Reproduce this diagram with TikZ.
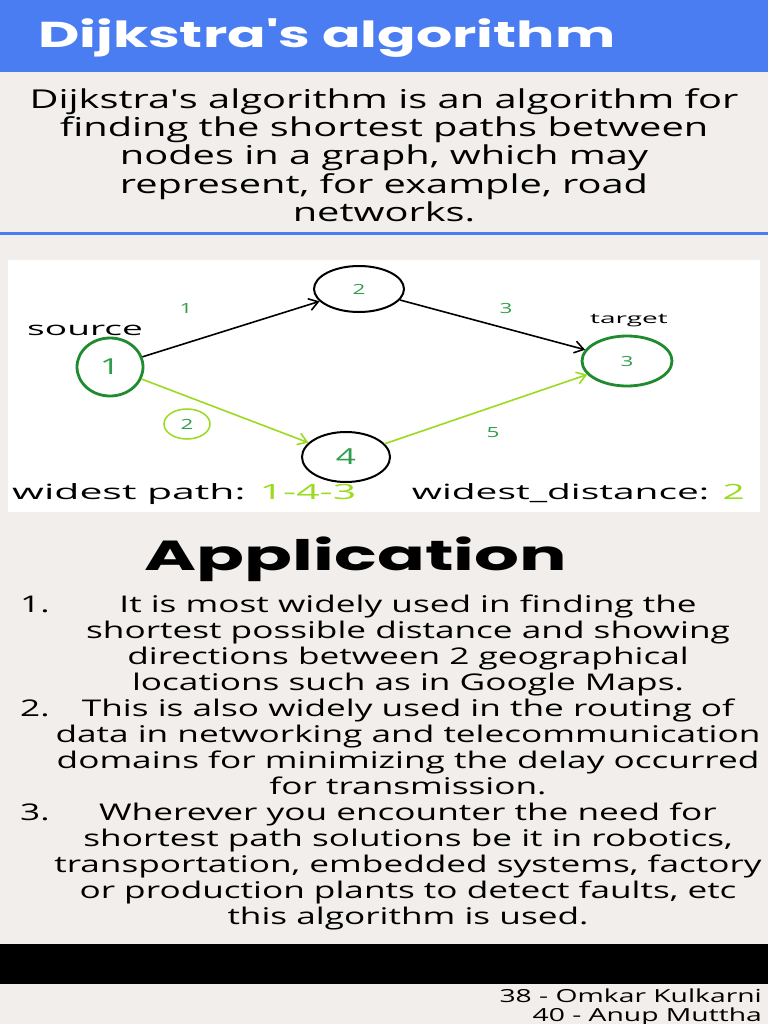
\documentclass[tikz,border=0pt]{standalone}
\usepackage{fontspec}
\usepackage{graphicx}
\setmainfont{Open Sans}
\newfontfamily\titlefont{Poppins}
\usetikzlibrary{arrows.meta,shapes.geometric}
\definecolor{bg}{HTML}{F1EEEB}
\definecolor{bar}{HTML}{4A7DF2}
\definecolor{gn}{HTML}{2E9E4A}
\definecolor{lg}{HTML}{9BDB1E}
\definecolor{dg}{HTML}{1F8A2E}
\newcommand{\sx}[2]{\scalebox{#1}[1]{#2}}
\begin{document}
\begin{tikzpicture}[x=1pt,y=-1pt,
  para/.style={font=\fontsize{26}{26}\selectfont,anchor=base},
  lst/.style={font=\fontsize{23}{23}\selectfont,anchor=base},
  gr/.style={font=\fontsize{21}{21}\selectfont,anchor=base},
  vert/.style={draw,ellipse,line width=2pt,inner sep=0pt},
  edge/.style={line width=1.6pt,-{Straight Barb[length=9pt,width=12pt]}},
  wl/.style={font=\fontsize{14}{14}\selectfont,text=gn}]
\useasboundingbox (0,0) rectangle (768,1024);
\fill[bg] (0,0) rectangle (768,1024);
\fill[bar] (0,0) rectangle (768,72);
\node[anchor=base west,inner sep=0pt,text=white,font=\titlefont\bfseries\fontsize{36}{36}\selectfont] (title) at (38,48) {\sx{1.58}{Dijkstra's algorithm}};
\node[para] (p1) at (384,109) {\sx{1.53}{Dijkstra\textquotesingle s algorithm is an algorithm for}};
\node[para] (p2) at (384,137) {\sx{1.53}{finding the shortest paths between}};
\node[para] (p3) at (384,165) {\sx{1.53}{nodes in a graph, which may}};
\node[para] (p4) at (384,194) {\sx{1.53}{represent, for example, road}};
\node[para] (p5) at (384,222) {\sx{1.53}{networks.}};
\fill[bar] (0,232) rectangle (768,235);
% image
\fill[white] (8,260) rectangle (760,512);
\node[vert,draw=dg,line width=2.8pt,minimum width=66pt,minimum height=58pt] (n1) at (110,367) {};
\node[vert,minimum width=90pt,minimum height=46pt] (n2) at (359,289) {};
\node[vert,draw=dg,line width=2.8pt,minimum width=90pt,minimum height=50pt] (n3) at (627,361) {};
\node[vert,minimum width=88pt,minimum height=50pt] (n4) at (346,457) {};
\node[text=gn,font=\fontsize{22}{22}\selectfont] (t1) at (n1) {\sx{1.6}{1}};
\node[wl] (t2) at (n2) {\sx{1.6}{2}};
\node[wl] (t3) at (n3) {\sx{1.6}{3}};
\node[text=gn,font=\fontsize{22}{22}\selectfont] (t4) at (n4) {\sx{1.6}{4}};
\draw[edge] (n1) -- (n2);
\draw[edge] (n2) -- (n3);
\draw[edge,lg] (n1) -- (n4);
\draw[edge,lg] (n4) -- (n3);
\node[font=\fontsize{19}{19}\selectfont] (src) at (85,330) {\sx{1.95}{source}};
\node[font=\fontsize{14}{14}\selectfont] (tgt) at (629,321) {\sx{2}{target}};
\node[wl] (w1) at (186,309) {\sx{1.6}{1}};
\node[wl] (w3) at (506,308) {\sx{1.6}{3}};
\node[wl] (w5) at (493,433) {\sx{1.6}{5}};
\node[wl,draw=lg,ellipse,line width=1.5pt,minimum width=46pt,minimum height=30pt,inner sep=0pt] (w2) at (187,424) {\sx{1.6}{2}};
\node[gr,anchor=base west,inner sep=0pt] (wp) at (12,499) {\sx{1.95}{widest path: \textcolor{lg}{1-4-3}}};
\node[gr,anchor=base east,inner sep=0pt] (wd) at (745,499) {\sx{1.85}{widest\_distance: \textcolor{lg}{2}}};
% application
\node[anchor=base,font=\titlefont\bfseries\fontsize{42}{42}\selectfont] (app) at (356,570) {\sx{1.68}{Application}};
\node[lst,anchor=base west,inner sep=0pt] (n1a) at (20,612) {\sx{1.53}{1.}};
\node[lst] (l1) at (408,612) {\sx{1.53}{It is most widely used in finding the}};
\node[lst] (l2) at (408,638) {\sx{1.53}{shortest possible distance and showing}};
\node[lst] (l3) at (408,664) {\sx{1.53}{directions between 2 geographical}};
\node[lst] (l4) at (408,690) {\sx{1.53}{locations such as in Google Maps.}};
\node[lst,anchor=base west,inner sep=0pt] (n2a) at (20,716) {\sx{1.53}{2.}};
\node[lst] (l5) at (408,716) {\sx{1.53}{This is also widely used in the routing of}};
\node[lst] (l6) at (408,742) {\sx{1.53}{data in networking and telecommunication}};
\node[lst] (l7) at (408,768) {\sx{1.53}{domains for minimizing the delay occurred}};
\node[lst] (l8) at (408,794) {\sx{1.53}{for transmission.}};
\node[lst,anchor=base west,inner sep=0pt] (n3a) at (20,820) {\sx{1.53}{3.}};
\node[lst] (l9) at (408,820) {\sx{1.53}{Wherever you encounter the need for}};
\node[lst] (l10) at (408,846) {\sx{1.53}{shortest path solutions be it in robotics,}};
\node[lst] (l11) at (408,872) {\sx{1.53}{transportation, embedded systems, factory}};
\node[lst] (l12) at (408,898) {\sx{1.53}{or production plants to detect faults, etc}};
\node[lst] (l13) at (408,924) {\sx{1.53}{this algorithm is used.}};
\fill[black] (0,944) rectangle (768,984);
\node[anchor=base east,inner sep=0pt,font=\fontsize{18}{18}\selectfont] (a1) at (762,1002) {\sx{1.57}{38 - Omkar Kulkarni}};
\node[anchor=base east,inner sep=0pt,font=\fontsize{18}{18}\selectfont] (a2) at (762,1021) {\sx{1.57}{40 - Anup Muttha}};
\end{tikzpicture}
\end{document}
